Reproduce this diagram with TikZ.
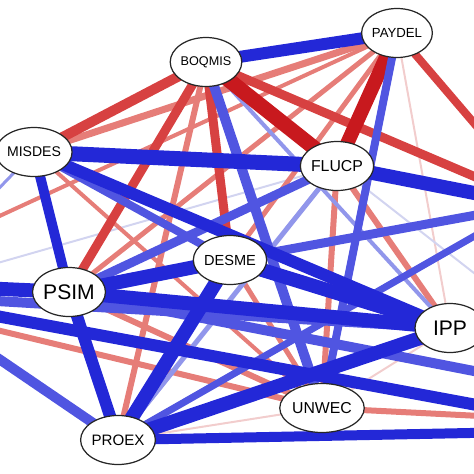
\documentclass[tikz,border=0pt]{standalone}
\usepackage{fontspec}
\setmainfont{Liberation Sans}
\usepackage{xcolor}
\usepackage{tikz}
\usetikzlibrary{shapes.geometric, backgrounds}

\definecolor{posblue}{RGB}{35,40,215}
\definecolor{midblue}{RGB}{80,85,225}
\definecolor{litblue}{RGB}{145,150,235}
\definecolor{palblue}{RGB}{210,212,240}
\definecolor{negred}{RGB}{200,25,30}
\definecolor{midred}{RGB}{215,65,65}
\definecolor{litred}{RGB}{230,125,120}
\definecolor{palred}{RGB}{242,205,205}

\begin{document}
\begin{tikzpicture}[
    x=0.02cm, y=-0.02cm,
    var/.style = {ellipse, draw=black!85, fill=white, line width=0.7pt,
                  minimum width=1.4cm, minimum height=0.98cm, inner sep=0pt},
    wt/.style  = {line width=#1*0.569pt}
  ]

  \useasboundingbox (0,0) rectangle (474,474);
  \clip (0,0) rectangle (474,474);

  % ----------------------------------------------------------------
  % Variables (pixel grid, y pointing down)
  % ----------------------------------------------------------------
  \foreach \nm/\xx/\yy/\fs/\lbl in {
      pay/397/33/7.5/PAYDEL,  boq/206/62/7.2/BOQMIS,
      mis/34/152/8/MISDES,    flu/337/166/9/FLUCP,
      des/230/260/8.3/DESME,  psim/69/292/12/PSIM,
      ipp/450/328/12/IPP,     unw/322/408/9/UNWEC,
      pro/118/440/8.6/PROEX}{
    \node[var, font=\fontsize{\fs}{\fs}\selectfont] (\nm) at (\xx, \yy) {\lbl};
  }

  % ends of edges to variables outside the crop
  \foreach \nm/\xx/\yy in {
      xl1/-20/208, xl2/-20/268, xl3/-20/288, xl4/-20/300,
      xl5/-20/313, xl6/-20/326, xl7/-20/346, xl8/-20/225,
      xr1/520/177, xr2/520/196, xr3/520/202, xr4/520/207,
      xr5/520/413, xr6/520/380, xr7/520/432, xr8/520/210,
      xr9/520/418, xr10/520/309, xr11/520/345}{
    \coordinate (\nm) at (\xx, \yy);
  }

  % ----------------------------------------------------------------
  % Edges, drawn behind the variables (weakest first)
  % ----------------------------------------------------------------
  \begin{scope}[on background layer]
    \clip (0,0) rectangle (474,474);

    % faint
    \foreach \a/\b/\w in {pay/ipp/2, pro/unw/2, ipp/unw/2}
      \draw[palred, wt=\w] (\a.center) -- (\b.center);
    \foreach \a/\b/\w in {xl2/flu/2, flu/xr10/2}
      \draw[palblue, wt=\w] (\a.center) -- (\b.center);
    \draw[litblue, wt=3] (xl1.center) -- (mis.center);

    % weak negative
    \foreach \a/\b/\w in {
        psim/pay/5, des/pay/5, boq/pro/6, mis/unw/4, flu/ipp/6,
        flu/unw/6, psim/unw/6, xl6/unw/6, unw/xr9/6, des/unw/5,
        xl8/pay/4, mis/pay/7}
      \draw[litred, wt=\w] (\a.center) -- (\b.center);
    \draw[litblue, wt=4] (boq.center) -- (ipp.center);
    \draw[litblue, wt=5] (flu.center) -- (pro.center);

    % negative
    \foreach \a/\b/\w in {
        pay/xr1/8, boq/mis/10, boq/psim/9, boq/des/9, boq/xr2/9}
      \draw[midred, wt=\w] (\a.center) -- (\b.center);
    \foreach \a/\b/\w in {boq/flu/15, pay/flu/14}
      \draw[negred, wt=\w] (\a.center) -- (\b.center);

    % positive
    \foreach \a/\b/\w in {
        boq/unw/10, pay/unw/8, mis/des/8, flu/psim/9, des/xr4/9,
        xl4/ipp/10, psim/xr6/10, xl7/pro/10, pro/xr8/7}
      \draw[midblue, wt=\w] (\a.center) -- (\b.center);
    \foreach \a/\b/\w in {
        pay/boq/12, mis/flu/15, mis/psim/10, mis/ipp/12, flu/xr3/14,
        des/psim/14, des/pro/14, des/ipp/14, psim/ipp/14,
        psim/pro/12, psim/xl3/14, xl5/xr5/12, pro/ipp/14,
        pro/xr7/10, ipp/xr11/8}
      \draw[posblue, wt=\w] (\a.center) -- (\b.center);
  \end{scope}

\end{tikzpicture}
\end{document}
